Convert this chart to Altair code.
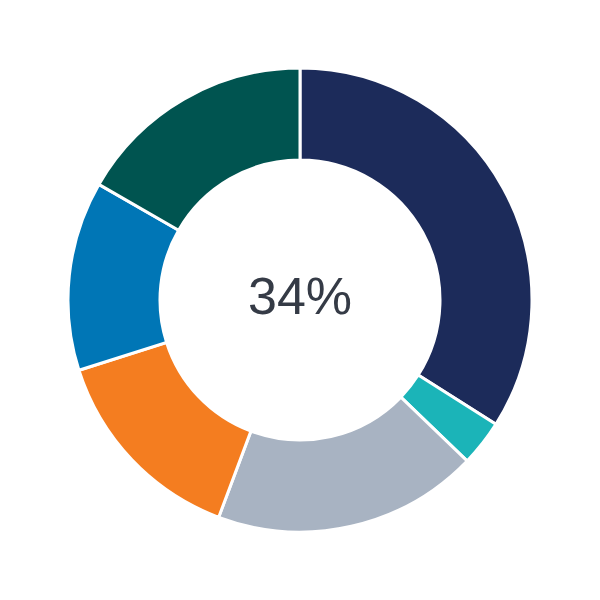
import altair as alt
import pandas as pd

categories = ["A", "B", "C", "D", "E", "F"]
values = [34, 3.2, 18.5, 14.4, 13.2, 16.7]
colors = ["#1c2b5a", "#1bb4b8", "#a8b3c2", "#f47d20", "#0076b6", "#005450"]
center_label = "34%"

df = pd.DataFrame({"cat": categories, "val": values, "ord": list(range(len(categories)))})

arcs = alt.Chart(df).mark_arc(outerRadius=232, innerRadius=140, stroke="white", strokeWidth=3).encode(
    theta=alt.Theta("val:Q", stack=True),
    order=alt.Order("ord:Q"),
    color=alt.Color("cat:N", scale=alt.Scale(domain=categories, range=colors), legend=None),
)

label = alt.Chart(pd.DataFrame({"t": [center_label]})).mark_text(
    font="Liberation Sans", fontSize=52, color="#353b46", baseline="middle", align="center"
).encode(
    text="t:N",
    x=alt.value(292),
    y=alt.value(290),
)

chart = alt.layer(arcs, label).properties(
    width=584, height=584, padding=0, autosize=alt.AutoSizeParams(type="none")
).configure_view(stroke=None)

chart.save("out.html", embed_options={"renderer": "svg", "actions": False})
